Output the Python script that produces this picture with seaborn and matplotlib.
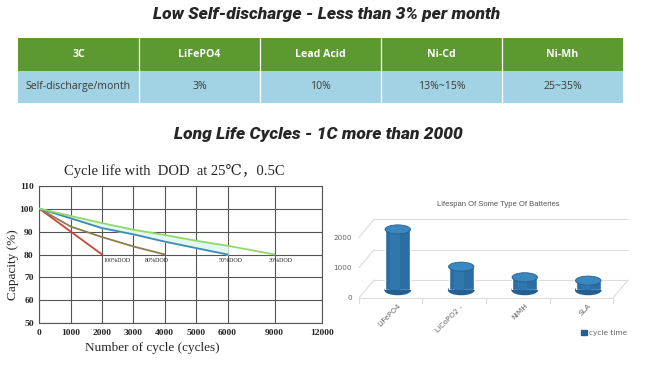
import numpy as np
import pandas as pd
import matplotlib
matplotlib.use("Agg")
import matplotlib.pyplot as plt
import matplotlib.transforms as mtransforms
from matplotlib.colors import ListedColormap
from matplotlib.patches import Ellipse, Patch, Rectangle
import seaborn as sns

# ---- data ----
table_header = ["3C", "LiFePO4", "Lead Acid", "Ni-Cd", "Ni-Mh"]
table_values = ["Self-discharge/month", "3%", "10%", "13%~15%", "25~35%"]

cycles_100 = [0, 1000, 2000]
capacity_100 = [100, 90, 80]
cycles_80 = [0, 1000, 2000, 3000, 4000]
capacity_80 = [100, 92.2, 87.6, 83.5, 80]
cycles_50 = [0, 1000, 2000, 3000, 4000, 5000, 6000]
capacity_50 = [100, 95.8, 91.5, 88.8, 85.6, 82.8, 80]
cycles_30 = [0, 1000, 2000, 3000, 4000, 5000, 6000, 9000]
capacity_30 = [100, 96.8, 93.7, 90.8, 88.5, 86, 83.8, 80]
dod_labels = ["100%DOD", "80%DOD", "50%DOD", "30%DOD"]
cycle_ticks = [0, 1000, 2000, 3000, 4000, 5000, 6000, 9000, 12000]
capacity_ticks = [50, 60, 70, 80, 90, 100, 110]

battery_types = ["LiFePO4", "LiCoPO2 - ", "NiMH", "SLA"]
cycle_time = [2000, 770, 420, 310]

sns.set_theme(style="white")
plt.rcParams["font.family"] = ["DejaVu Sans"]

W, H = 650, 365
fig = plt.figure(figsize=(6.5, 3.65), dpi=100)


def box(l, t, r, b):
    return [l / W, 1 - b / H, (r - l) / W, (b - t) / H]


title_font = ["Liberation Sans Narrow", "Roboto", "DejaVu Sans"]
fig.text(327 / W, 1 - 15 / H, "Low Self-discharge - Less than 3% per month",
         ha="center", va="center", fontsize=12.5, fontweight="black",
         style="italic", family=title_font)
fig.text(318 / W, 1 - 135 / H, "Long Life Cycles - 1C more than 2000",
         ha="center", va="center", fontsize=12.5, fontweight="black",
         style="italic", family=title_font)

# ---- table as a 2-row heatmap ----
ax_t = fig.add_axes(box(18, 38, 623, 103))
sns.heatmap(np.array([[0] * 5, [1] * 5]), ax=ax_t,
            cmap=ListedColormap(["#5c9a31", "#a2d3e4"]), vmin=0, vmax=1,
            annot=np.array([table_header, table_values]), fmt="",
            cbar=False, linewidths=0, xticklabels=False, yticklabels=False,
            annot_kws=dict(fontsize=7.6, family="Open Sans"))
for k in range(1, 5):
    ax_t.axvline(k, color="white", linewidth=0.9)
for i, t in enumerate(ax_t.texts):
    if i < 5:
        t.set_color("white")
        t.set_fontweight("bold")
    else:
        t.set_color("#3a3a3a")

# ---- cycle life line chart ----
ax_l = fig.add_axes(box(39.3, 185.7, 321.7, 323.3))
df = pd.concat([
    pd.DataFrame({"cycles": cycles_100, "capacity": capacity_100, "dod": dod_labels[0]}),
    pd.DataFrame({"cycles": cycles_80, "capacity": capacity_80, "dod": dod_labels[1]}),
    pd.DataFrame({"cycles": cycles_50, "capacity": capacity_50, "dod": dod_labels[2]}),
    pd.DataFrame({"cycles": cycles_30, "capacity": capacity_30, "dod": dod_labels[3]}),
])
palette = dict(zip(dod_labels, ["#c8453a", "#8e7c4a", "#3d8bb0", "#92d86c"]))
ax_l.fill_between(cycles_50, capacity_50, capacity_30[:len(cycles_50)],
                  color="#e2f6f2", zorder=1)
sns.lineplot(data=df, x="cycles", y="capacity", hue="dod", palette=palette,
             ax=ax_l, legend=False, linewidth=1.3, zorder=3)


def fwd(x):
    x = np.asarray(x, dtype=float)
    return np.where(x <= 6000, x / 1000, 6 + (x - 6000) / 2000)


def inv(u):
    u = np.asarray(u, dtype=float)
    return np.where(u <= 6, u * 1000, 6000 + (u - 6) * 2000)


ax_l.set_xscale("function", functions=(fwd, inv))
ax_l.set_xlim(0, 12000)
ax_l.set_ylim(50, 110)
serif = ["Liberation Serif", "DejaVu Serif"]
ax_l.set_xticks(cycle_ticks, labels=[str(t) for t in cycle_ticks],
                fontsize=6.8, fontweight="bold", family=serif)
ax_l.set_yticks(capacity_ticks, labels=[str(t) for t in capacity_ticks],
                fontsize=6.8, fontweight="bold", family=serif)
ax_l.tick_params(length=0, pad=4)
ax_l.grid(True, color="#555555", linewidth=0.8)
for s in ax_l.spines.values():
    s.set_color("#555555")
    s.set_linewidth(0.8)
ax_l.set_xlabel("")
ax_l.set_ylabel("")

label_x = [2030, 3370, 5700, 8650]
for lx, lab in zip(label_x, dod_labels):
    ax_l.text(lx, 77.5, lab, fontsize=4.3, family=serif, ha="left",
              va="center", color="#222222")

fig.text(174 / W, 1 - 171 / H, "Cycle life with  DOD  at 25\u2103\uff0c0.5C",
         ha="center", va="center", fontsize=10.5,
         family=["Liberation Serif", "DejaVu Serif", "Noto Sans CJK SC"])
fig.text(12.7 / W, 1 - 265 / H, "Capacity (%)", rotation=90, ha="center",
         va="center", fontsize=9.5, family=serif)
fig.text(152 / W, 1 - 348 / H, "Number of cycle (cycles)", ha="center",
         va="center", fontsize=9.5, family=serif)

# ---- lifespan bar chart (cylinder look) ----
ax_r = fig.add_axes(box(366, 217.3, 620, 290))
sns.barplot(x=battery_types, y=cycle_time, ax=ax_r, color="#2a6ea4",
            width=0.4, saturation=1, zorder=3)
ax_r.set_xlim(-0.5, 3.5)
ax_r.set_ylim(0, 2400)
for patch, v in zip(list(ax_r.patches), cycle_time):
    x0 = patch.get_x()
    w = patch.get_width()
    cx = x0 + w / 2
    ax_r.add_patch(Rectangle((x0 + 0.2 * w, 0), 0.4 * w, v,
                             color="#3077ad", zorder=3.5, lw=0))
    ax_r.add_patch(Ellipse((cx, 0), w, 300, color="#255f8f", zorder=2,
                           clip_on=False))
    ax_r.add_patch(Ellipse((cx, v), w, 300, facecolor="#3b88c0",
                           edgecolor="#275f8c", lw=0.6, zorder=4,
                           clip_on=False))

px = 1 / 100
front = ax_r.transData + mtransforms.ScaledTranslation(-7 * px, -8 * px, fig.dpi_scale_trans)
back = ax_r.transData + mtransforms.ScaledTranslation(8 * px, 10 * px, fig.dpi_scale_trans)
grid_kw = dict(color="#dcdcdc", linewidth=0.8, clip_on=False, zorder=1)
for lvl in [0, 1000, 2000]:
    ax_r.plot([-0.5, 3.5], [lvl, lvl], transform=back, **grid_kw)
    p0 = front.transform((-0.5, lvl))
    p1 = back.transform((-0.5, lvl))
    ax_r.plot([p0[0], p1[0]], [p0[1], p1[1]], transform=None, **grid_kw)
p0 = front.transform((3.5, 0))
p1 = back.transform((3.5, 0))
ax_r.plot([p0[0], p1[0]], [p0[1], p1[1]], transform=None, **grid_kw)
ax_r.plot([-0.5, 3.5], [0, 0], transform=front, **grid_kw)
for bx in [-0.5, 0.5, 1.5, 2.5, 3.5]:
    ax_r.plot([bx, bx], [0, -160], transform=front, **grid_kw)

for s in ax_r.spines.values():
    s.set_visible(False)
ax_r.set_yticks([0, 1000, 2000], labels=["0", "1000", "2000"],
                fontsize=5.2, color="#666666")
ax_r.set_xticks(range(4), labels=battery_types, fontsize=5.4,
                color="#666666", rotation=45, ha="right",
                rotation_mode="anchor")
ax_r.tick_params(length=0)
ax_r.tick_params(axis="y", pad=5)
ax_r.tick_params(axis="x", pad=9)
for lab in ax_r.get_yticklabels():
    lab.set_transform(lab.get_transform() +
                      mtransforms.ScaledTranslation(-7 * px, -8 * px, fig.dpi_scale_trans))
ax_r.set_xlabel("")
ax_r.set_ylabel("")

fig.text(498 / W, 1 - 205 / H, "Lifespan Of Some Type Of Batteries",
         ha="center", va="center", fontsize=5.5, color="#555555",
         family="Liberation Sans")
fig.legend(handles=[Patch(color="#255f8f", label="cycle time")],
           loc="center", bbox_to_anchor=(604 / W, 1 - 333 / H), frameon=False,
           fontsize=5.3, handlelength=0.8, handleheight=0.8,
           handletextpad=0.3, labelcolor="#666666")

fig.savefig("out.png", dpi=100)
